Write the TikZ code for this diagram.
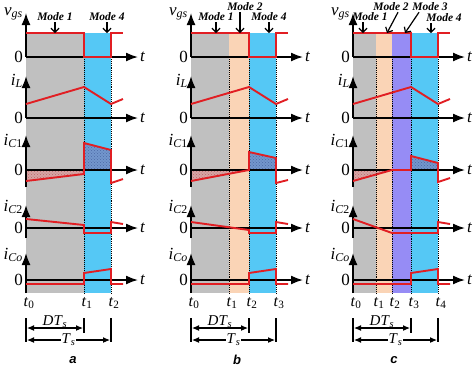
\documentclass[tikz,border=0pt]{standalone}
\usepackage{fontspec}
\setmainfont{Liberation Serif}
\newfontfamily\panelfont{Liberation Sans}
\usepackage{xcolor}
\usepackage{tikz}
\usetikzlibrary{arrows.meta,patterns}

\definecolor{bggray}{RGB}{192,192,192}
\definecolor{bgblue}{RGB}{85,200,245}
\definecolor{bgpeach}{RGB}{250,212,182}
\definecolor{bgpurple}{RGB}{150,140,245}
\definecolor{wavered}{RGB}{225,30,35}
\definecolor{hatchred}{RGB}{215,165,165}
\definecolor{hatchreddot}{RGB}{185,105,105}
\definecolor{hatchblue}{RGB}{115,150,205}
\definecolor{hatchbluedot}{RGB}{75,105,165}

\newcommand{\sig}[2]{\textit{#1}\textsubscript{#2}}

\begin{document}
\begin{tikzpicture}[
        x=1pt, y=-1pt,
        wave/.style={draw=wavered, line width=1.9pt},
        waveaxis/.style={line width=1.6pt, -{Latex[length=12pt,width=9pt]}},
        boundary/.style={densely dotted, line width=0.9pt},
        modelabel/.style={font=\fontsize{11.5}{13}\selectfont\bfseries\itshape, inner sep=1pt},
        modearrow/.style={line width=1.2pt, -{Straight Barb[length=4pt,width=8pt]}},
        siglabel/.style={font=\fontsize{17}{19}\selectfont, inner sep=1pt},
        timelabel/.style={font=\fontsize{16}{18}\selectfont, anchor=north, inner sep=1pt},
        periodarrow/.style={line width=1.1pt, {Latex[length=7pt,width=6pt]}-{Latex[length=7pt,width=6pt]}},
        redhatch/.style={fill=hatchred, postaction={pattern=crosshatch dots, pattern color=hatchreddot}},
        bluehatch/.style={fill=hatchblue, postaction={pattern=crosshatch dots, pattern color=hatchbluedot}},
        font=\fontsize{15}{17}\selectfont
    ]
    \useasboundingbox (0,0) rectangle (474,368);

    % ---------- 背景区间 ----------
    \begin{scope}[shift={(26,0)}]
        \fill[bggray] (0,33) rectangle (58,293);
        \fill[bgblue] (58,33) rectangle (85,293);
        \path[redhatch] (0,170) -- (0,181) -- (58,174) -- (58,170) -- cycle;
        \path[bluehatch] (58,170) -- (58,143) -- (85,150) -- (85,170) -- cycle;
        \foreach \x in {58,85}
            \draw[boundary] (\x,57) -- (\x,293);
    \end{scope}

    \begin{scope}[shift={(191,0)}]
        \fill[bggray] (0,33) rectangle (38,293);
        \fill[bgpeach] (38,33) rectangle (58,293);
        \fill[bgblue] (58,33) rectangle (85,293);
        \path[redhatch] (0,170) -- (0,181) -- (58,170) -- cycle;
        \path[bluehatch] (58,170) -- (58,152) -- (85,158) -- (85,170) -- cycle;
        \foreach \x in {38,58,85}
            \draw[boundary] (\x,57) -- (\x,293);
    \end{scope}

    \begin{scope}[shift={(353,0)}]
        \fill[bggray] (0,33) rectangle (23,293);
        \fill[bgpeach] (23,33) rectangle (39,293);
        \fill[bgpurple] (39,33) rectangle (58,293);
        \fill[bgblue] (58,33) rectangle (85,293);
        \path[redhatch] (0,170) -- (0,181) -- (39,170) -- cycle;
        \path[bluehatch] (58,170) -- (58,156) -- (85,163) -- (85,170) -- cycle;
        \foreach \x in {23,39,58,85}
            \draw[boundary] (\x,57) -- (\x,293);
    \end{scope}

    % ---------- 坐标轴与公共波形 ----------
    \foreach \px/\pn/\lx in {26/a/47, 191/b/46, 353/c/41} {
        \begin{scope}[shift={(\px,0)}]
            \foreach \z/\top/\bot/\lab/\ly in {
                57/13/57/{\sig{v}{\textit{gs}}}/14,
                118/76/118/{\sig{i}{\textit{L}}}/81,
                170/135/187/{\sig{i}{\textit{C}1}}/141,
                228/205/238/{\sig{i}{\textit{C}2}}/207,
                280/253/293/{\sig{i}{\textit{Co}}}/255} {
                \draw[waveaxis] (0,\bot) -- (0,\top);
                \draw[waveaxis] (0,\z) -- (112,\z);
                \node[siglabel, anchor=east] (sig\pn\z) at (-2,\ly) {\lab};
                \node[siglabel, anchor=east] (zero\pn\z) at (-2,\z) {0};
                \node[siglabel, anchor=west] (t\pn\z) at (113,\z) {\textit{t}};
            }

            \draw[wave] (0,33) -- (58,33) -- (58,57) -- (85,57) -- (85,33) -- (97,33);
            \draw[wave] (0,104) -- (58,87) -- (85,104) -- (97,99);
            \draw[wave] (0,284) -- (58,284) -- (58,273) -- (85,269) -- (85,284) -- (97,284);

            % 周期标注
            \draw[line width=1.1pt] (0,318) -- (0,342);
            \draw[line width=1.1pt] (58,318) -- (58,333);
            \draw[line width=1.1pt] (85,318) -- (85,342);
            \coordinate (ds\pn) at (1,328);
            \coordinate (de\pn) at (57,328);
            \coordinate (ts\pn) at (1,340);
            \coordinate (te\pn) at (84,340);
            \draw[periodarrow] (ds\pn) -- (de\pn)
                node[midway, above=-1pt, inner sep=1pt] (dt\pn) {\textit{DT}\textsubscript{\textit{s}}};
            \draw[periodarrow] (ts\pn) -- (te\pn)
                node[midway, fill=white, inner sep=1pt] (tp\pn) {\textit{T}\textsubscript{\textit{s}}};

            \node[font=\panelfont\bfseries\itshape\fontsize{13}{14}\selectfont, inner sep=0pt] (lbl\pn) at (\lx,360) {\pn};
        \end{scope}
    }

    % ---------- (a) ----------
    \begin{scope}[shift={(26,0)}]
        \draw[wave] (0,181) -- (58,174) -- (58,143) -- (85,150) -- (85,183) -- (97,179);
        \draw[wave] (0,219) -- (58,225) -- (58,233) -- (85,233) -- (85,222) -- (97,224);
        \foreach \x/\k in {0/0, 58/1, 85/2}
            \node[timelabel] (ta\k) at (\x+3,296) {\sig{t}{\k}};
        \node[modelabel] (m1a) at (29,17) {Mode 1};
        \node[modelabel] (m4a) at (81,17) {Mode 4};
        \coordinate (d1a) at (29,33);
        \coordinate (d4a) at (81,33);
        \draw[modearrow] (m1a) -- (d1a);
        \draw[modearrow] (m4a) -- (d4a);
    \end{scope}

    % ---------- (b) ----------
    \begin{scope}[shift={(191,0)}]
        \draw[wave] (0,181) -- (58,170) -- (58,152) -- (85,158) -- (85,183) -- (97,180);
        \draw[wave] (0,222) -- (58,230) -- (58,233) -- (85,233) -- (85,222) -- (97,224);
        \foreach \x/\k in {0/0, 38/1, 58/2, 85/3}
            \node[timelabel] (tb\k) at (\x+3,296) {\sig{t}{\k}};
        \node[modelabel] (m1b) at (25,17) {Mode 1};
        \node[modelabel] (m2b) at (54,7) {Mode 2};
        \node[modelabel] (m4b) at (78,17) {Mode 4};
        \coordinate (d1b) at (25,33);
        \coordinate (d2b) at (49,33);
        \coordinate (d4b) at (78,33);
        \draw[modearrow] (m1b) -- (d1b);
        \draw[modearrow] (m2b.south -| d2b) -- (d2b);
        \draw[modearrow] (m4b) -- (d4b);
    \end{scope}

    % ---------- (c) ----------
    \begin{scope}[shift={(353,0)}]
        \draw[wave] (0,181) -- (39,170) -- (58,170) -- (58,156) -- (85,163) -- (85,182) -- (97,178);
        \draw[wave] (0,219) -- (39,233) -- (85,233) -- (85,222) -- (97,224);
        \foreach \x/\k in {0/0, 23/1, 39/2, 58/3, 85/4}
            \node[timelabel] (tc\k) at (\x+3,296) {\sig{t}{\k}};
        \node[modelabel] (m1c) at (17,17) {Mode 1};
        \node[modelabel] (m2c) at (38,7) {Mode 2};
        \node[modelabel] (m3c) at (77,7) {Mode 3};
        \node[modelabel] (m4c) at (91,18) {Mode 4};
        \coordinate (d1c) at (10,33);
        \coordinate (d2c) at (34,33);
        \coordinate (d3c) at (52,33);
        \coordinate (d4c) at (78,33);
        \draw[modearrow] (m1c.south -| d1c) -- (d1c);
        \draw[modearrow] ([xshift=7pt]m2c.south) -- (d2c);
        \draw[modearrow] ([xshift=-11pt]m3c.south) -- (d3c);
        \draw[modearrow] (m4c.south -| d4c) -- (d4c);
    \end{scope}

\end{tikzpicture}
\end{document}
